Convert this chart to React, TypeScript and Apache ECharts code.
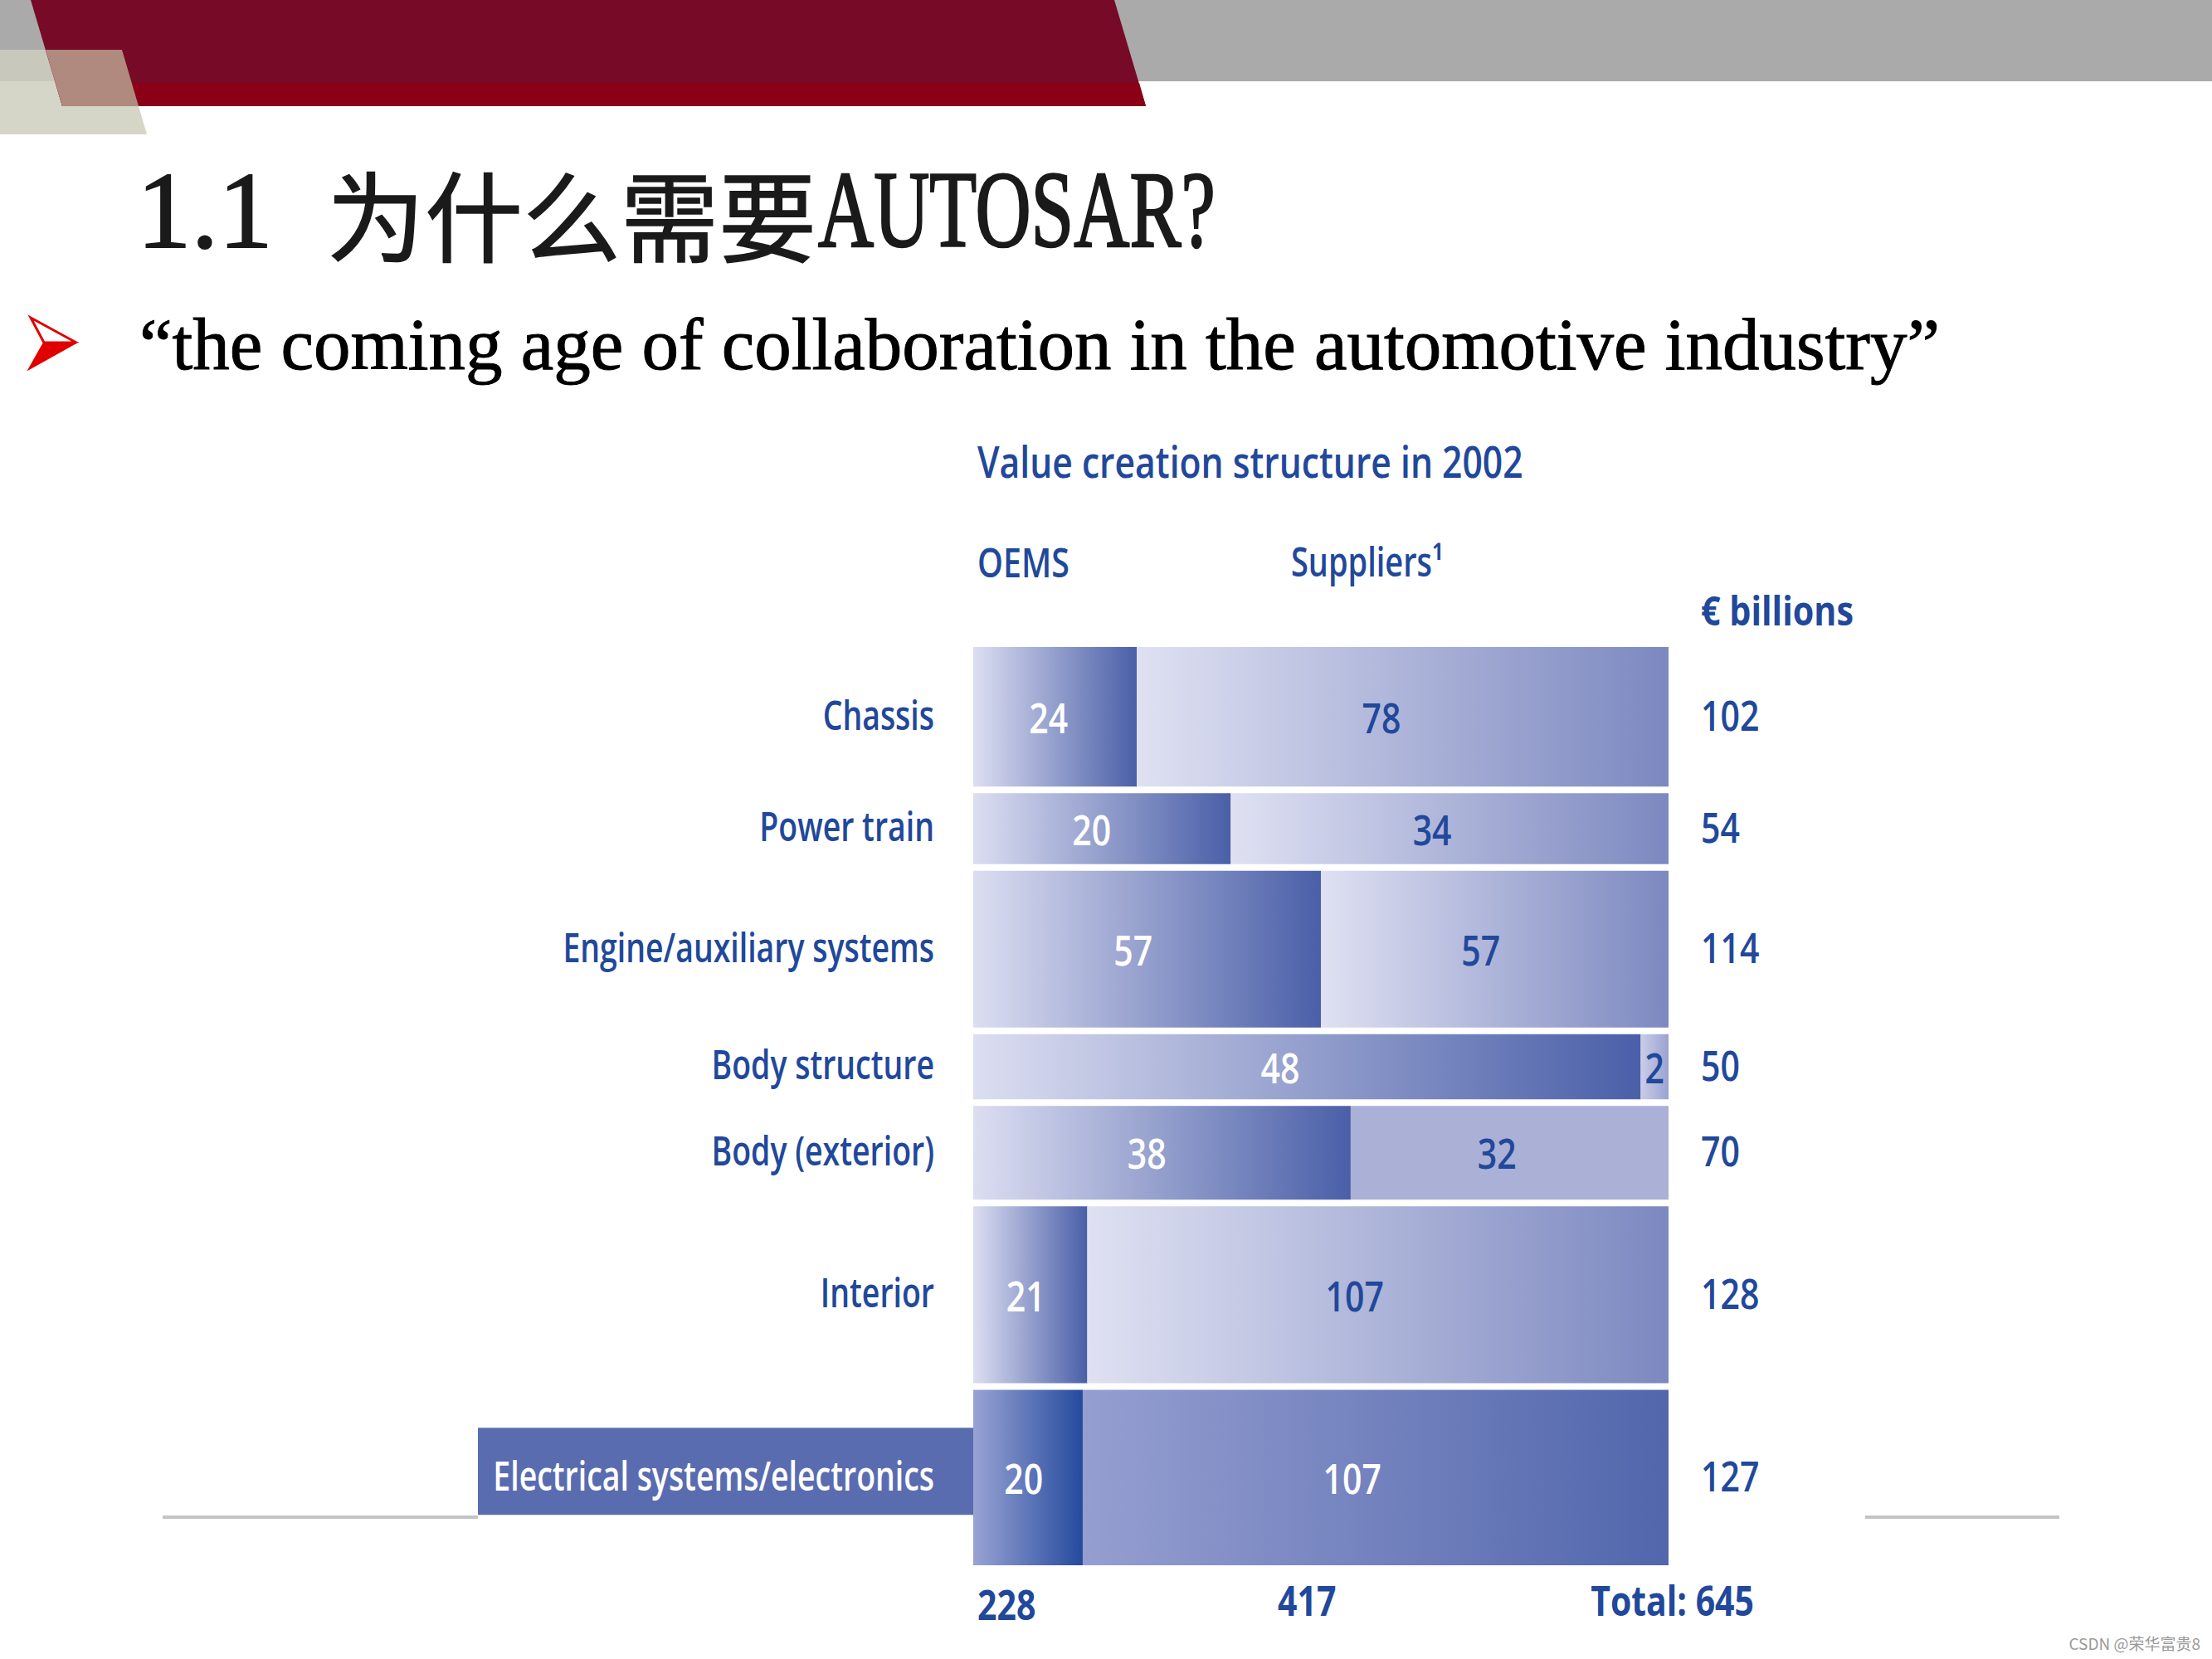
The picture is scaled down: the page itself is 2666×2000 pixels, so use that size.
import React, { useEffect, useRef } from 'react';
import * as echarts from 'echarts';

// ---------- data ----------
const categories = [
  'Chassis',
  'Power train',
  'Engine/auxiliary systems',
  'Body structure',
  'Body (exterior)',
  'Interior',
  'Electrical systems/electronics',
];
const oemValues = [24, 20, 57, 48, 38, 21, 20];
const supplierValues = [78, 34, 57, 2, 32, 107, 107];
const rowTotals = [102, 54, 114, 50, 70, 128, 127];
const columnHeaders = ['OEMS', 'Suppliers¹'];
const unitLabel = '€ billions';
const chartTitle = 'Value creation structure in 2002';
const slideTitleParts = ['1.1', '为什么需要', 'AUTOSAR?'];
const subtitleText = '“the coming age of collaboration in the automotive industry”';
const watermark = 'CSDN @荣华富贵8';

// ---------- styles ----------
const BLUE = '#21489a';
const FONT = '"Open Sans", "Noto Sans", sans-serif';
const SX = 0.82;
const LABEL_SX = 0.78;
const LABEL_POS = 0.46;
const GAP = 8;
const HIGHLIGHT_ROW = 6;
const STD_OEM = ['#dcdef1', '#4a5fa8'];
const STD_SUP = ['#dfe1f2', '#7c88c0'];
const oemGradients = [STD_OEM, STD_OEM, STD_OEM, STD_OEM, STD_OEM, STD_OEM, ['#99a3d4', '#254a9e']];
const supGradients = [STD_SUP, STD_SUP, STD_SUP, ['#c9cde8', '#9aa3d1'], ['#aab0d6', '#aab0d6'], STD_SUP, ['#959ed0', '#5166ac']];
const oemTextColors = ['#fff', '#fff', '#fff', '#fff', '#fff', '#fff', '#fff'];
const supTextColors = [BLUE, BLUE, BLUE, BLUE, BLUE, BLUE, '#fff'];

const grad = (c: string[]) =>
  new echarts.graphic.LinearGradient(0, 0, 1, 0, [
    { offset: 0, color: c[0] },
    { offset: 1, color: c[1] },
  ]);

const txt = (
  text: string,
  x: number,
  y: number,
  align: string,
  fill: string,
  size: number,
  weight: string | number = 600,
  sx: number = SX,
  family: string = FONT,
  extra: any = {}
) => ({
  type: 'text',
  x,
  y,
  scaleX: sx,
  z: 10,
  style: {
    text,
    fill,
    font: `${weight} ${size}px ${family}`,
    align,
    verticalAlign: 'middle',
    textAlign: align,
    textVerticalAlign: 'middle',
    ...extra,
  },
});

export default function App() {
  const ref = useRef<HTMLDivElement>(null);

  useEffect(() => {
    if (!ref.current) return;
    const chart = echarts.init(ref.current, undefined, { renderer: 'svg' });

    const starts: number[] = [];
    let acc = 0;
    rowTotals.forEach((t) => {
      starts.push(acc);
      acc += t;
    });
    const grandTotal = acc;
    const oemSum = oemValues.reduce((a, b) => a + b, 0);
    const supSum = supplierValues.reduce((a, b) => a + b, 0);

    const seriesData = categories.map((_, i) => [
      starts[i],
      starts[i] + rowTotals[i],
      oemValues[i],
      supplierValues[i],
      rowTotals[i],
    ]);

    const renderItem = (params: any, api: any) => {
      const i = params.dataIndex;
      const s = api.value(0);
      const e = api.value(1);
      const oem = api.value(2);
      const sup = api.value(3);
      const tot = api.value(4);
      const pS = api.coord([0, s]);
      const pE = api.coord([1, e]);
      const xL = pS[0];
      const xR = pE[0];
      const xM = api.coord([oem / tot, s])[0];
      const top = pS[1] + GAP / 2;
      const bot = pE[1] - GAP / 2;
      const h = bot - top;
      const cy = (top + bot) / 2;
      const children: any[] = [];
      const isHi = i === HIGHLIGHT_ROW;
      if (isHi) {
        children.push({
          type: 'rect',
          shape: { x: 576, y: cy - 60, width: xL - 576, height: 105 },
          style: { fill: '#5a6cb0' },
        });
      }
      children.push({
        type: 'rect',
        shape: { x: xL, y: top, width: xM - xL, height: h },
        style: { fill: grad(oemGradients[i]) },
      });
      children.push({
        type: 'rect',
        shape: { x: xM, y: top, width: xR - xM, height: h },
        style: { fill: grad(supGradients[i]) },
      });
      const oemW = xM - xL;
      const supW = xR - xM;
      const oemX = oemW > 60 ? xL + oemW * LABEL_POS : (xL + xM) / 2;
      const supX = supW > 60 ? xM + supW * LABEL_POS : (xM + xR) / 2;
      children.push(txt(String(oem), oemX, cy, 'center', oemTextColors[i], 50));
      children.push(txt(String(sup), supX, cy, 'center', supTextColors[i], 50));
      children.push(txt(categories[i], xL - 47, cy - 3, 'right', isHi ? '#ffffff' : BLUE, 48, 600, LABEL_SX));
      children.push(txt(String(tot), xR + 39, cy - 3, 'left', BLUE, 50));
      return { type: 'group', children };
    };

    const graphics: any[] = [
      // slide header
      { type: 'rect', shape: { x: 0, y: 0, width: 2666, height: 98 }, style: { fill: '#aaaaaa' }, z: 0 },
      { type: 'polygon', shape: { points: [[0, 60], [147, 60], [177, 162], [0, 162]] }, style: { fill: '#d6d6c8' }, z: 1 },
      { type: 'polygon', shape: { points: [[0, 60], [55, 60], [66, 98], [0, 98]] }, style: { fill: '#c8c8bc' }, z: 2 },
      { type: 'polygon', shape: { points: [[37, 0], [1343, 0], [1381, 128], [75, 128]] }, style: { fill: '#770a27' }, z: 2 },
      { type: 'polygon', shape: { points: [[67, 100], [1373, 100], [1381, 128], [75, 128]] }, style: { fill: '#8b0016' }, z: 3 },
      { type: 'polygon', shape: { points: [[55, 60], [147, 60], [167, 128], [75, 128]] }, style: { fill: '#b08a7f' }, z: 4 },
      // title
      txt(slideTitleParts[0], 165, 253, 'left', '#1a1a1a', 131, 'normal', 1, '"Liberation Serif", serif', { stroke: '#1a1a1a', lineWidth: 2 }),
      txt(slideTitleParts[1], 394, 255, 'left', '#1a1a1a', 118, 400, 1, '"Noto Sans CJK SC", sans-serif', { stroke: '#1a1a1a', lineWidth: 1.5 }),
      txt(slideTitleParts[2], 986, 253, 'left', '#1a1a1a', 131, 'normal', 0.71, '"Liberation Serif", serif', { stroke: '#1a1a1a', lineWidth: 2.5 }),
      // bullet arrow
      { type: 'polygon', shape: { points: [[37, 383], [92, 413], [53, 413]] }, style: { fill: '#ffffff', stroke: '#e00000', lineWidth: 3 }, z: 5 },
      { type: 'polygon', shape: { points: [[53, 413], [92, 413], [35, 445]] }, style: { fill: '#e00000', stroke: '#e00000', lineWidth: 2 }, z: 5 },
      txt(subtitleText, 168, 415, 'left', '#000000', 89, 'normal', 1, '"Liberation Serif", serif', { stroke: '#000000', lineWidth: 1 }),
      // chart texts
      txt(chartTitle, 1178, 556, 'left', BLUE, 52),
      txt(columnHeaders[0], 1178, 677, 'left', BLUE, 48),
      txt(columnHeaders[1], 1556, 677, 'left', BLUE, 48, 600, 0.79),
      txt(unitLabel, 2050, 735, 'left', BLUE, 48, 700, 0.86),
      txt(String(oemSum), 1178, 1933, 'left', BLUE, 50, 700),
      txt(String(supSum), 1540, 1928, 'left', BLUE, 50, 700),
      txt('Total: ' + grandTotal, 2114, 1928, 'right', BLUE, 50, 700),
      // grey rule
      { type: 'line', shape: { x1: 196, y1: 1829, x2: 576, y2: 1829 }, style: { stroke: '#c4c4c4', lineWidth: 4 }, z: 0 },
      { type: 'line', shape: { x1: 2248, y1: 1829, x2: 2482, y2: 1829 }, style: { stroke: '#c4c4c4', lineWidth: 4 }, z: 0 },
      // watermark
      txt(watermark, 2652, 1980, 'right', '#9a9a9a', 19, 'normal', 1, '"Noto Sans CJK SC", sans-serif'),
    ];

    chart.setOption({
      animation: false,
      backgroundColor: '#ffffff',
      grid: { left: 1173, top: 776, width: 838, height: 1115, containLabel: false },
      xAxis: { type: 'value', min: 0, max: 1, show: false },
      yAxis: { type: 'value', min: 0, max: grandTotal, inverse: true, show: false },
      series: [
        {
          type: 'custom',
          name: 'Value creation',
          clip: false,
          renderItem,
          encode: { x: -1, y: [0, 1] },
          data: seriesData,
          z: 5,
        },
      ],
      graphic: graphics,
    });

    return () => chart.dispose();
  }, []);

  return (
    <div
      ref={ref}
      style={{ position: 'fixed', left: 0, top: 0, width: 2666, height: 2000, background: '#fff' }}
    />
  );
}
